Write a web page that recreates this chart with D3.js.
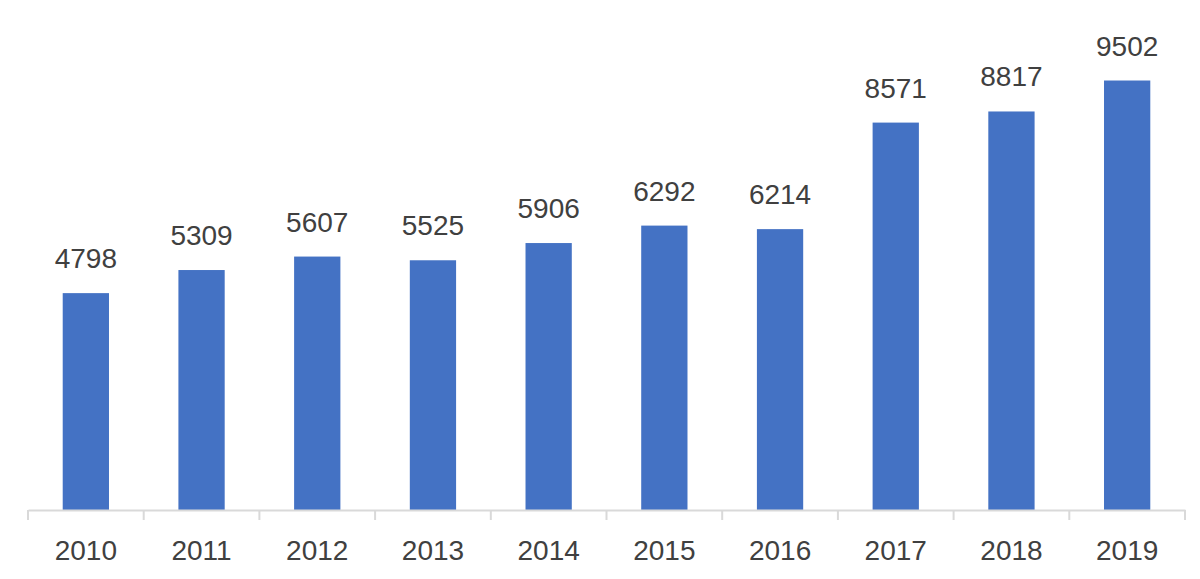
<!DOCTYPE html>
<html>
<head>
<meta charset="utf-8">
<script src="https://cdn.jsdelivr.net/npm/d3@7"></script>
<style>
  html, body { margin: 0; padding: 0; background: #ffffff; }
  svg { display: block; }
</style>
</head>
<body>
<svg id="chart" width="1200" height="579"></svg>
<script>
const years = ["2010","2011","2012","2013","2014","2015","2016","2017","2018","2019"];
const values = [4798, 5309, 5607, 5525, 5906, 6292, 6214, 8571, 8817, 9502];

(function () {
const svg = d3.select("#chart");
const plotLeft = 28, plotRight = 1185, baseline = 510, plotTop = 58;

const x = d3.scaleBand().domain(years).range([plotLeft, plotRight]).paddingInner(0.6).paddingOuter(0.3);
const y = d3.scaleLinear().domain([0, 10000]).range([baseline, plotTop]);

// bars
svg.append("g").selectAll("rect")
  .data(years)
  .join("rect")
  .attr("x", d => x(d))
  .attr("y", (d, i) => y(values[i]))
  .attr("width", x.bandwidth())
  .attr("height", (d, i) => baseline - y(values[i]))
  .attr("fill", "#4472c4");

// value labels
svg.append("g").selectAll("text")
  .data(years)
  .join("text")
  .attr("x", d => x(d) + x.bandwidth() / 2)
  .attr("y", (d, i) => y(values[i]) - 25)
  .attr("text-anchor", "middle")
  .attr("font-family", "'Liberation Sans', Arial, sans-serif")
  .attr("font-size", 28)
  .attr("fill", "#404040")
  .text((d, i) => values[i]);

// axis
const xAxis = d3.axisBottom(x).tickSize(0).tickPadding(0);
const axisG = svg.append("g").attr("transform", `translate(0,${baseline})`).call(xAxis);
axisG.select(".domain").attr("stroke", "#d9d9d9").attr("stroke-width", 2);
axisG.selectAll(".tick line").remove();
axisG.selectAll(".tick text")
  .attr("y", 50)
  .attr("dy", 0)
  .attr("font-family", "'Liberation Sans', Arial, sans-serif")
  .attr("font-size", 28)
  .attr("fill", "#404040");

// category boundary ticks
const step = x.step();
const tickPos = years.map(d => x(d) - step * x.paddingInner() / 2).concat([x(years[years.length - 1]) + x.bandwidth() + step * x.paddingInner() / 2]);
svg.append("g").selectAll("line")
  .data(tickPos)
  .join("line")
  .attr("x1", d => d).attr("x2", d => d)
  .attr("y1", baseline).attr("y2", baseline + 10)
  .attr("stroke", "#d9d9d9")
  .attr("stroke-width", 2);
})();
</script>
</body>
</html>
